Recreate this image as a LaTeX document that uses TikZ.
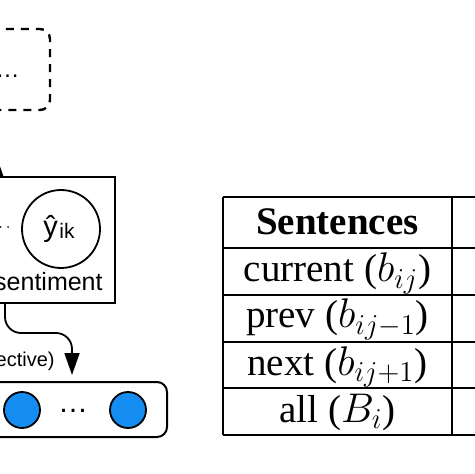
\documentclass[tikz,border=0pt]{standalone}
\usepackage{fontspec}
\setmainfont{Liberation Serif}
\setsansfont{Liberation Sans}
\usepackage{tikz}
\usetikzlibrary{arrows.meta,positioning,calc}
\definecolor{punktblau}{RGB}{20,140,240}

\begin{document}
\begin{tikzpicture}[x=0.5pt,y=-0.5pt,
  kasten/.style={draw,line width=1pt,inner sep=0pt},
  tablinie/.style={line width=0.8pt},
  satz/.style={font=\fontsize{19.5}{22}\selectfont,anchor=base},
  sans/.style={font=\sffamily\fontsize{12.5}{15}\selectfont,inner sep=0pt},
  kreis/.style={circle,draw,line width=0.9pt,fill=punktblau,minimum size=18pt,inner sep=0pt},
  pfeil/.style={line width=0.9pt,-{Triangle[length=11pt,width=7.5pt]}}]
%Koordinaten in Pixeln des Bildes, y zeigt nach unten
\useasboundingbox (0,0) rectangle (474,474);
%gestrichelter Kasten oben (nur rechter Teil sichtbar)
\draw[line width=1.2pt,dash pattern=on 4pt off 3.5pt,rounded corners=5pt] (-90,29) rectangle (50,110);
\node[sans,font=\sffamily\fontsize{12}{14}\selectfont,anchor=base east] (obenPunkte) at (20,77.5) {\dots};
%Kasten mit sentiment
\node[kasten,minimum width=102.5pt,minimum height=63pt] (sentbox) at (12.5,240) {};
\node[circle,draw,line width=0.9pt,minimum size=39pt] (yhat) at (61,229) {};
\node[sans,anchor=base,font=\sffamily\fontsize{14.5}{16}\selectfont] (yhatText) at (59,237) {ŷ\hspace{0.8pt}\raisebox{-1pt}{\fontsize{10.5}{12}\selectfont ik}};
\node[anchor=east,inner sep=0pt,font=\fontsize{8}{10}\selectfont] (mittePunkte) at (11,228) {$\cdots$};
\node[sans,anchor=base east] (sentText) at (103,290.5) {sentiment};
%Pfeile
\coordinate (obenZiel) at (-4,155);
\draw[pfeil] (sentbox.north -| obenZiel) -- (obenZiel);
\coordinate (kurveStart) at (5,0);
\coordinate (pfeilEnde) at (72,375);
\draw[pfeil,rounded corners=8pt] (sentbox.south -| kurveStart) -- (5,333) -- (72,333) -- (pfeilEnde);
\node[sans,font=\sffamily\fontsize{10}{12}\selectfont,anchor=base east] (objText) at (55,366) {ective)};
%Kasten unten mit Punkten
\node[kasten,rounded corners=5pt,minimum width=128.5pt,minimum height=27.5pt] (satzliste) at (38.5,409.5) {};
\foreach \cx [count=\k] in {22,128}
  \node[kreis] (punkt\k) at (\cx,410) {};
\node[anchor=base,font=\sffamily\fontsize{15}{17}\selectfont] (untenPunkte) at (73,412) {\dots};
%Tabelle
\foreach \yy in {197,248,295,342,388,435}
  \draw[tablinie] (223,\yy) -- (480,\yy);
\foreach \xx in {223,452}
  \draw[tablinie] (\xx,197) -- (\xx,435);
\node[satz,font=\bfseries\fontsize{19.5}{22}\selectfont] (kopf) at (337.5,235) {Sentences};
\foreach \bl/\txt [count=\i] in {282/{current ($b_{ij}$)},328/{prev ($b_{ij-1}$)},375/{next ($b_{ij+1}$)},422/{all ($B_i$)}}
  \node[satz] (zeile\i) at (337.5,\bl) {\txt};
\end{tikzpicture}
\end{document}
